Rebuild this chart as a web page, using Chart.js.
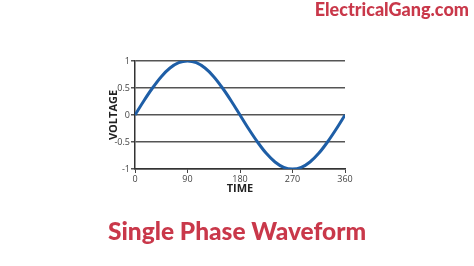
<!DOCTYPE html>
<html>
<head>
<meta charset="utf-8">
<script src="https://cdn.jsdelivr.net/npm/chart.js@4/dist/chart.umd.min.js"></script>
<style>
  html, body { margin: 0; padding: 0; background: #fff; }
  body { width: 474px; height: 266px; position: relative; overflow: hidden; }
  #wrap { position: absolute; left: 0; top: 0; width: 474px; height: 266px; }
  #brand { position: absolute; right: 5px; top: -2px; font-family: Lato, "Open Sans", sans-serif; font-weight: 900; font-size: 18px; color: #c9384a; white-space: nowrap; }
  #title { position: absolute; left: 0; width: 474px; top: 216px; text-align: center; font-family: Lato, "Open Sans", sans-serif; font-weight: 900; font-size: 24.5px; color: #c9384a; white-space: nowrap; }
</style>
</head>
<body>
<div id="wrap"><canvas id="c" width="474" height="266"></canvas></div>
<div id="brand">ElectricalGang.com</div>
<div id="title">Single Phase Waveform</div>
<script>
const angles = [0,15,30,45,60,75,90,105,120,135,150,165,180,195,210,225,240,255,270,285,300,315,330,345,360];
const voltage = [0,0.26,0.5,0.71,0.87,0.97,1,0.97,0.87,0.71,0.5,0.26,0,-0.26,-0.5,-0.71,-0.87,-0.97,-1,-0.97,-0.87,-0.71,-0.5,-0.26,0];
const xTicks = [0,90,180,270,360];
const yTicks = [-1,-0.5,0,0.5,1];
const xTitle = "TIME";
const yTitle = "VOLTAGE";

const points = angles.map((a, i) => ({x: a, y: voltage[i]}));
const tickFont = { family: '"Liberation Sans Narrow", "Open Sans", sans-serif', size: 9 };

new Chart(document.getElementById('c'), {
  type: 'line',
  data: {
    datasets: [{
      data: points,
      borderColor: '#1e5ea6',
      borderWidth: 3,
      pointRadius: 0,
      cubicInterpolationMode: 'monotone',
      fill: false
    }]
  },
  options: {
    responsive: false,
    animation: false,
    events: [],
    layout: { padding: { left: 100, top: 61, right: 129, bottom: 71 } },
    plugins: { legend: { display: false }, tooltip: { enabled: false } },
    scales: {
      x: {
        type: 'linear',
        min: 0, max: 360,
        afterBuildTicks: s => { s.ticks = xTicks.map(v => ({value: v})); },
        afterFit: s => { s.height = 26; },
        grid: { drawOnChartArea: false, drawTicks: true, tickLength: 4, color: '#444', lineWidth: 1 },
        border: { display: true, color: '#333', width: 1.5 },
        ticks: { padding: 1, color: '#444', font: tickFont, maxRotation: 0, callback: v => String(v) },
        title: { display: true, text: xTitle, color: '#222', padding: 0, font: { family: '"Open Sans", sans-serif', size: 11, weight: 'bold' } }
      },
      y: {
        min: -1, max: 1,
        afterBuildTicks: s => { s.ticks = yTicks.map(v => ({value: v})); },
        afterFit: s => { s.width = 35; },
        grid: { drawTicks: true, tickLength: 4, color: '#555', lineWidth: 1.5 },
        border: { display: true, color: '#333', width: 1.5 },
        ticks: { padding: 1, color: '#444', font: tickFont, callback: v => String(v) },
        title: { display: true, text: yTitle, color: '#222', padding: { top: 7.4, bottom: 0 }, font: { family: '"Open Sans", sans-serif', size: 11, weight: 'bold' } }
      }
    }
  }
});
</script>
</body>
</html>
